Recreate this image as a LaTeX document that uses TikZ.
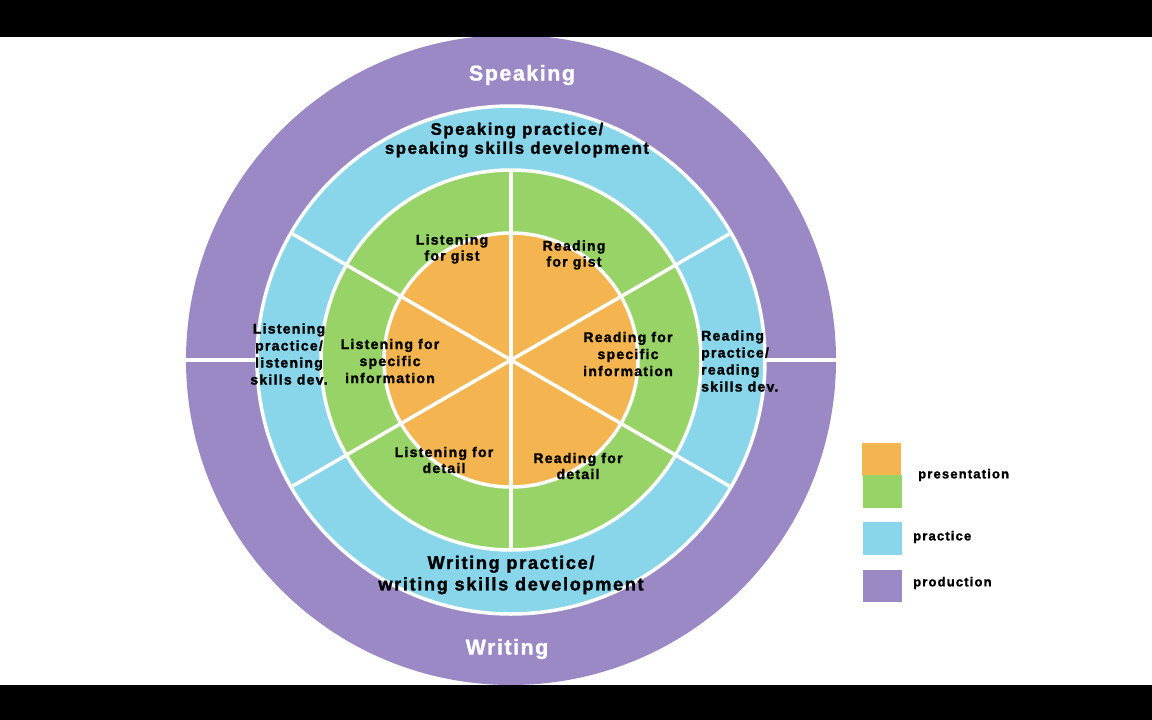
\documentclass[tikz,border=0pt]{standalone}
\usepackage{fontspec}
\setmainfont{Liberation Sans}
\newfontfamily\heavy{Liberation Sans}[UprightFont=* Bold, LetterSpace=9, FakeBold=1.6]
\newfontfamily\heavyw{Liberation Sans}[UprightFont=* Bold, LetterSpace=7, FakeBold=1.2]
\definecolor{purp}{HTML}{9A89C5}
\definecolor{blu}{HTML}{89D5EA}
\definecolor{grn}{HTML}{98D368}
\definecolor{org}{HTML}{F4B551}
\tikzset{
  ringline/.style={draw=white, line width=3.5pt},
  spoke/.style={draw=white, line width=3.5pt},
  lbl/.style={inner sep=0pt, align=center, text=black, font=\heavy\fontsize{14}{17}\selectfont},
  big/.style={inner sep=0pt, align=center, text=black, font=\heavy\fontsize{18.2}{21.5}\selectfont},
  title/.style={inner sep=0pt, text=white, font=\heavyw\fontsize{21.5}{24}\selectfont},
  leg/.style={inner sep=0pt, anchor=west, text=black, font=\heavy\fontsize{13}{15}\selectfont},
}
\begin{document}
\begin{tikzpicture}[x=1pt,y=-1pt]
\useasboundingbox (0,0) rectangle (1152,720);
\fill[white] (0,0) rectangle (1152,720);
\coordinate (c) at (511,360);
% rings
\fill[purp] (c) circle[radius=325pt];
\draw[spoke] (c) ++(0:252pt) -- ++(0:75pt);
\draw[spoke] (c) ++(180:252pt) -- ++(180:75pt);
\draw[ringline, fill=blu] (c) circle[radius=254pt];
\draw[ringline, fill=grn] (c) circle[radius=190pt];
\draw[ringline, fill=org] (c) circle[radius=127pt];
% spokes
\draw[spoke] (c) -- ++(30:254pt);
\draw[spoke] (c) -- ++(150:254pt);
\draw[spoke] (c) -- ++(210:254pt);
\draw[spoke] (c) -- ++(330:254pt);
\draw[spoke] (c) -- ++(90:190pt);
\draw[spoke] (c) -- ++(270:190pt);
% titles
\node[title] (speak) at (522,75) {Speaking};
\node[title] (write) at (507,649) {Writing};
% practice texts
\node[big, font=\heavy\fontsize{16.8}{19}\selectfont] (sp) at (517,140) {Speaking practice/\\speaking skills development};
\node[big] (wp) at (511,575) {Writing practice/\\writing skills development};
\node[lbl] (lp) at (289,354) {Listening\\practice/\\listening\\skills dev.};
\node[lbl, align=left, anchor=west] (rp) at (701,361) {Reading\\practice/\\reading\\skills dev.};
% inner texts
\node[lbl, font=\heavy\fontsize{14}{16}\selectfont] (lg) at (452,249) {Listening\\for gist};
\node[lbl, font=\heavy\fontsize{14}{16}\selectfont] (rg) at (574,255) {Reading\\for gist};
\node[lbl] (ls) at (390,361) {Listening for\\specific\\information};
\node[lbl] (rs) at (628,354) {Reading for\\specific\\information};
\node[lbl, font=\heavy\fontsize{14}{16}\selectfont] (ld) at (444,460) {Listening for\\detail};
\node[lbl, font=\heavy\fontsize{14}{16}\selectfont] (rd) at (578,466) {Reading for\\detail};
% legend
\fill[org] (862,443) rectangle (901,476);
\fill[grn] (863,475) rectangle (902,508);
\fill[blu] (863,522) rectangle (902,555);
\fill[purp] (863,570) rectangle (902,602);
\node[leg] (lpres) at (918,475) {presentation};
\node[leg] (lprac) at (913,537) {practice};
\node[leg] (lprod) at (913,583) {production};
% black bars
\fill[black] (0,0) rectangle (1152,37);
\fill[black] (0,685) rectangle (1152,720);
\end{tikzpicture}
\end{document}
